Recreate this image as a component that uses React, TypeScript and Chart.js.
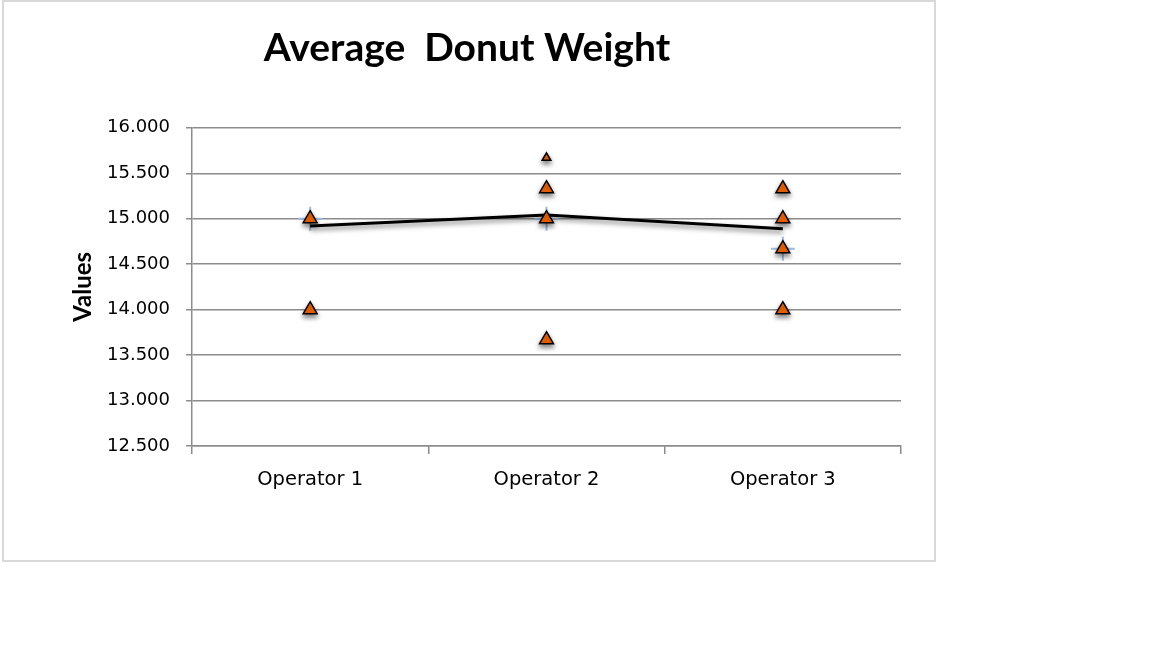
import { useEffect, useRef } from 'react';
import { Chart, registerables } from 'chart.js';

Chart.register(...registerables);

const operators = ['Operator 1', 'Operator 2', 'Operator 3'];
const operator1Weights = [15.0, 14.0];
const operator2Weights = [15.67, 15.33, 15.0, 13.67];
const operator3Weights = [15.33, 15.0, 14.67, 14.0];
const averageWeights = [14.92, 15.04, 14.89];
const medianWeights = [15.0, 15.0, 14.67];
const yTicks = [12.5, 13, 13.5, 14, 14.5, 15, 15.5, 16];

const weightsByOperator = [operator1Weights, operator2Weights, operator3Weights];

// soft drop shadow under the triangles and the average line, like the Excel original
const shadowPlugin = {
  id: 'markerShadow',
  beforeDatasetDraw(chart: any, args: any) {
    const ctx = chart.ctx;
    ctx.save();
    if (chart.data.datasets[args.index].label === 'Median') return;
    ctx.shadowColor = 'rgba(0,0,0,0.5)';
    ctx.shadowBlur = 5;
    ctx.shadowOffsetY = 3;
  },
  afterDatasetDraw(chart: any) {
    chart.ctx.restore();
  },
};

export default function App() {
  const canvasRef = useRef<HTMLCanvasElement>(null);
  const chartRef = useRef<Chart | null>(null);

  useEffect(() => {
    if (!canvasRef.current) return;
    if (chartRef.current) chartRef.current.destroy();

    const points = weightsByOperator.flatMap((list, i) =>
      list.map((y) => ({ x: operators[i], y }))
    );

    chartRef.current = new Chart(canvasRef.current, {
      type: 'line',
      data: {
        labels: operators,
        datasets: [
          {
            label: 'Weights',
            data: points,
            showLine: false,
            pointStyle: 'triangle',
            pointRadius: (c: any) => (c.raw && c.raw.y > 15.5 ? 5 : 8),
            pointBackgroundColor: '#ff6a00',
            pointBorderColor: '#000000',
            pointBorderWidth: 1.5,
            order: 0,
          },
          {
            label: 'Average',
            data: averageWeights,
            borderColor: '#000000',
            borderWidth: 3,
            pointRadius: 0,
            tension: 0,
            order: 1,
          },
          {
            label: 'Median',
            data: medianWeights,
            showLine: false,
            pointStyle: 'cross',
            pointRadius: 12,
            pointBorderColor: '#9dbde6',
            pointBorderWidth: 2,
            order: 2,
          },
        ],
      },
      options: {
        responsive: true,
        maintainAspectRatio: false,
        animation: false,
        layout: { padding: { left: 29, right: 33, top: 0, bottom: 0 } },
        plugins: {
          legend: { display: false },
          tooltip: { enabled: false },
          title: {
            display: true,
            text: 'Average  Donut Weight',
            color: '#000000',
            font: { family: 'Lato', size: 39, weight: 'bold' },
            padding: { top: 23, bottom: 56 },
          },
        },
        scales: {
          x: {
            type: 'category',
            offset: true,
            afterFit: (s: any) => { s.height = 114; },
            grid: {
              display: true,
              offset: true,
              drawOnChartArea: false,
              tickLength: 8,
              color: '#8c8c8c',
              lineWidth: 1.5,
            },
            border: { color: '#8c8c8c', width: 1.5 },
            ticks: {
              color: '#000000',
              padding: 14,
              font: { family: 'DejaVu Sans', size: 19.5 },
            },
          },
          y: {
            min: 12.5,
            max: 16,
            afterFit: (s: any) => { s.width = 159; },
            afterBuildTicks: (s: any) => { s.ticks = yTicks.map((v) => ({ value: v })); },
            grid: { color: '#8c8c8c', lineWidth: 1.5, tickLength: 6 },
            border: { color: '#8c8c8c', width: 1.5 },
            title: {
              display: true,
              text: 'Values',
              color: '#000000',
              font: { family: 'Lato', size: 24, weight: 'bold' },
              padding: { top: 36, bottom: 0 },
            },
            ticks: {
              color: '#000000',
              padding: 16,
              font: { family: 'DejaVu Sans', size: 18 },
              callback: (v: any) => Number(v).toFixed(3),
            },
          },
        },
      },
      plugins: [shadowPlugin],
    });

    return () => {
      if (chartRef.current) {
        chartRef.current.destroy();
        chartRef.current = null;
      }
    };
  }, []);

  return (
    <div
      style={{
        position: 'absolute',
        left: 2,
        top: 0,
        width: 934,
        height: 562,
        boxSizing: 'border-box',
        border: '2px solid #d9d9d9',
        background: '#ffffff',
      }}
    >
      <canvas ref={canvasRef} />
    </div>
  );
}
